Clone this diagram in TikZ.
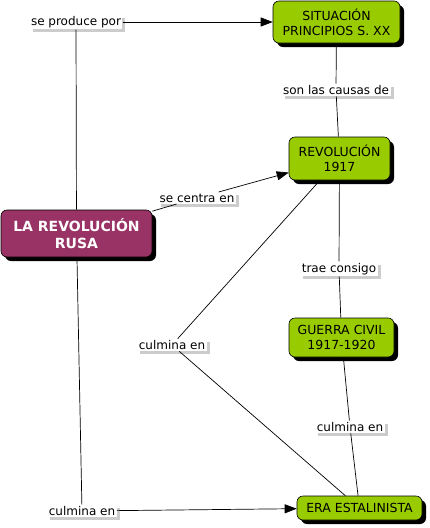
\documentclass[tikz,border=0pt]{standalone}
\usepackage{fontspec}
\setmainfont{DejaVu Sans}
\usetikzlibrary{shadows,arrows.meta}
\definecolor{cgreen}{RGB}{153,204,0}
\definecolor{cpurple}{RGB}{153,51,102}
\definecolor{lshadow}{RGB}{204,204,204}
\begin{document}
\begin{tikzpicture}[x=1pt,y=-1pt,
 concept/.style={draw=black, line width=0.6pt, fill=cgreen, rounded corners=6pt, align=center, font=\fontsize{12.5}{15}\selectfont, inner sep=0pt, drop shadow={shadow xshift=4pt,shadow yshift=-4pt,fill=black,opacity=1}},
 mainconcept/.style={concept, fill=cpurple, text=white, font=\bfseries\fontsize{14}{17}\selectfont},
 linkname/.style={fill=white, inner sep=1.5pt, font=\fontsize{12}{14}\selectfont, drop shadow={shadow xshift=3pt,shadow yshift=-3pt,fill=lshadow,opacity=1}},
 conn/.style={line width=0.7pt},
 arr/.style={conn,-{Triangle[length=12pt,width=9pt]}}
]
\useasboundingbox[fill=white] (0,0) rectangle (429,528);
\node[concept, minimum width=127pt, minimum height=42pt] (sit) at (336.5,22) {SITUACIÓN\\PRINCIPIOS S. XX};
\node[concept, minimum width=101pt, minimum height=43pt] (rev) at (339.5,158.5) {REVOLUCIÓN\\1917};
\node[mainconcept, minimum width=151pt, minimum height=47pt] (rusa) at (76.5,233.5) {LA REVOLUCIÓN\\RUSA};
\node[concept, minimum width=105pt, minimum height=39pt] (gue) at (341.5,337.5) {GUERRA CIVIL\\1917-1920};
\node[concept, minimum width=125pt, minimum height=24pt] (era) at (359.5,508) {ERA ESTALINISTA};
\node[linkname] (l1) at (76,22) {se produce por};
\node[linkname] (l2) at (336,90) {son las causas de};
\node[linkname] (l3) at (197,198) {se centra en};
\node[linkname] (l4) at (339,269) {trae consigo};
\node[linkname] (l5) at (172,345) {culmina en};
\node[linkname] (l6) at (350,427) {culmina en};
\node[linkname] (l7) at (82,511) {culmina en};
\draw[conn] (rusa) -- (l1); \draw[arr] (l1) -- (sit);
\draw[conn] (sit) -- (l2); \draw[conn] (l2) -- (rev);
\draw[conn] (rusa) -- (l3); \draw[arr] (l3) -- (rev);
\draw[conn] (rev) -- (l4); \draw[conn] (l4) -- (gue);
\draw[conn] (rev) -- (l5); \draw[conn] (l5) -- (era);
\draw[conn] (gue) -- (l6); \draw[conn] (l6) -- (era);
\draw[conn] (rusa) -- (l7); \draw[arr] (l7) -- (era);
\end{tikzpicture}
\end{document}
